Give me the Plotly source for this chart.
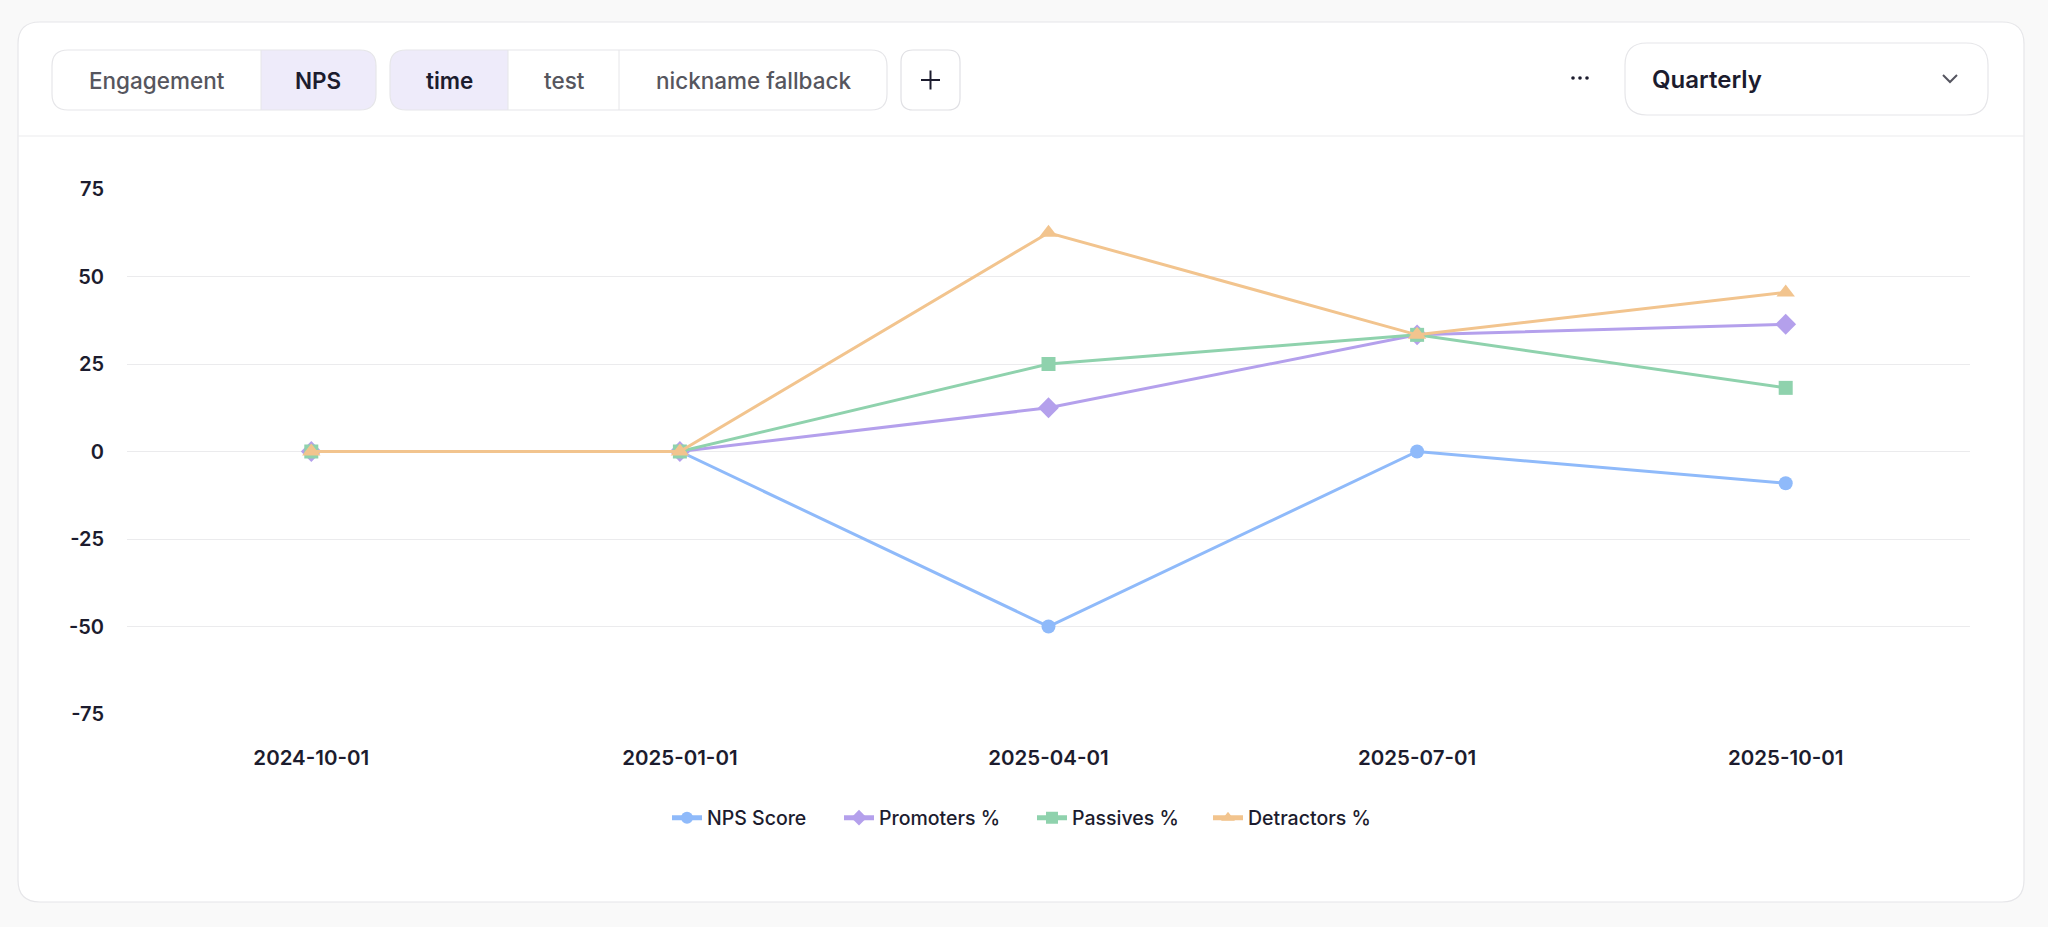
import plotly.graph_objects as go

# ---- data ----
quarters = ["2024-10-01", "2025-01-01", "2025-04-01", "2025-07-01", "2025-10-01"]
nps_score = [0, 0, -50, 0, -9.09]
promoters = [0, 0, 12.5, 33.33, 36.36]
passives = [0, 0, 25, 33.33, 18.18]
detractors = [0, 0, 62.5, 33.33, 45.45]
y_ticks = [-75, -50, -25, 0, 25, 50, 75]
y_tick_labels = ["-75", "-50", "-25", "0", "25", "50", "75"]

series_names = ["NPS Score", "Promoters %", "Passives %", "Detractors %"]
series_values = [nps_score, promoters, passives, detractors]
series_colors = ["#8fbafa", "#b4a0ec", "#8fd2ad", "#f2c48e"]
series_symbols = ["circle", "diamond", "square", "triangle-up"]
series_sizes = [14, 16, 14, 16]

tabs_left = ["Engagement", "NPS"]
tabs_right = ["time", "test", "nickname fallback"]
period_label = "Quarterly"

W, H = 2048, 927
L, R, T, B = 127, 1970, 189, 714
FONT = "Inter"


def px(x):
    return (x - L) / (R - L)


def py(y):
    return (B - y) / (B - T)


def rrect(x0, y0, x1, y1, r, corners=(True, True, True, True)):
    tl, tr, br, bl = [r if c else 0 for c in corners]
    def P(x, y):
        return f"{px(x):.6f},{py(y):.6f}"
    d = f"M {P(x0 + tl, y0)} L {P(x1 - tr, y0)} "
    if tr:
        d += f"Q {P(x1, y0)} {P(x1, y0 + tr)} "
    d += f"L {P(x1, y1 - br)} "
    if br:
        d += f"Q {P(x1, y1)} {P(x1 - br, y1)} "
    d += f"L {P(x0 + bl, y1)} "
    if bl:
        d += f"Q {P(x0, y1)} {P(x0, y1 - bl)} "
    d += f"L {P(x0, y0 + tl)} "
    if tl:
        d += f"Q {P(x0, y0)} {P(x0 + tl, y0)} "
    d += "Z"
    return d


legend_ids = ["legend", "legend2", "legend3", "legend4"]
legend_text_starts = [707, 879, 1072, 1248]

fig = go.Figure()
for name, vals, col, sym, sz, lg in zip(series_names, series_values, series_colors, series_symbols,
                                        series_sizes, legend_ids):
    fig.add_trace(go.Scatter(
        x=quarters, y=vals, name=name, mode="lines+markers",
        line=dict(color=col, width=3),
        marker=dict(color=col, symbol=sym, size=sz),
        legend=lg,
    ))

shapes = []
BORDER = "#e6e6e9"
LAV = "#eeebfa"
shapes.append(dict(type="path", path=rrect(18, 22, 2024, 902, 22), xref="paper", yref="paper",
                   fillcolor="white", line=dict(color=BORDER, width=1.2), layer="below"))
shapes.append(dict(type="line", x0=px(18), x1=px(2024), y0=py(136), y1=py(136), xref="paper", yref="paper",
                   line=dict(color="#ececee", width=1.2), layer="below"))
shapes.append(dict(type="path", path=rrect(261, 50, 376, 110, 16, (False, True, True, False)), xref="paper", yref="paper",
                   fillcolor=LAV, line=dict(width=0), layer="below"))
shapes.append(dict(type="path", path=rrect(52, 50, 376, 110, 16), xref="paper", yref="paper",
                   fillcolor="rgba(0,0,0,0)", line=dict(color=BORDER, width=1.2), layer="below"))
shapes.append(dict(type="line", x0=px(261), x1=px(261), y0=py(50), y1=py(110), xref="paper", yref="paper",
                   line=dict(color=BORDER, width=1), layer="below"))
shapes.append(dict(type="path", path=rrect(390, 50, 508, 110, 16, (True, False, False, True)), xref="paper", yref="paper",
                   fillcolor=LAV, line=dict(width=0), layer="below"))
shapes.append(dict(type="path", path=rrect(390, 50, 887, 110, 16), xref="paper", yref="paper",
                   fillcolor="rgba(0,0,0,0)", line=dict(color=BORDER, width=1.2), layer="below"))
for xd in (508, 619):
    shapes.append(dict(type="line", x0=px(xd), x1=px(xd), y0=py(50), y1=py(110), xref="paper", yref="paper",
                       line=dict(color=BORDER, width=1), layer="below"))
shapes.append(dict(type="path", path=rrect(901, 50, 960, 110, 12), xref="paper", yref="paper",
                   fillcolor="white", line=dict(color="#e0e0e4", width=1.2), layer="below"))
for (ax0, ay0, ax1, ay1) in [(921, 80, 940, 80), (930.5, 70.5, 930.5, 89.5)]:
    shapes.append(dict(type="line", x0=px(ax0), x1=px(ax1), y0=py(ay0), y1=py(ay1), xref="paper", yref="paper",
                       line=dict(color="#1c1c2e", width=2), layer="below"))
for xd in (1573, 1580, 1587):
    shapes.append(dict(type="circle", x0=px(xd - 1.8), x1=px(xd + 1.8), y0=py(78 - 1.8), y1=py(78 + 1.8),
                       xref="paper", yref="paper", fillcolor="#1c1c2e", line=dict(width=0), layer="below"))
shapes.append(dict(type="path", path=rrect(1625, 43, 1988, 115, 22), xref="paper", yref="paper",
                   fillcolor="white", line=dict(color=BORDER, width=1.2), layer="below"))
shapes.append(dict(type="path",
                   path=f"M {px(1943):.6f},{py(75):.6f} L {px(1950):.6f},{py(82):.6f} L {px(1957):.6f},{py(75):.6f}",
                   xref="paper", yref="paper", line=dict(color="#555560", width=2), layer="below"))

annotations = []
def label(text, xc, yc, color, size=22.5, weight=500, anchor="center"):
    annotations.append(dict(text=text, x=px(xc), y=py(yc), xref="paper", yref="paper", showarrow=False,
                            xanchor=anchor, yanchor="middle",
                            font=dict(family=FONT, size=size, color=color, weight=weight)))

label(tabs_left[0], 157, 80, "#56565e")
label(tabs_left[1], 318, 80, "#1c1c2e", weight=600)
label(tabs_right[0], 449, 80, "#1c1c2e", weight=600)
label(tabs_right[1], 564, 80, "#56565e")
label(tabs_right[2], 753, 80, "#56565e")
label(period_label, 1650, 79, "#1c1c2e", size=24, weight=600, anchor="left")

legend_common = dict(orientation="h", xanchor="left", y=py(818), yanchor="middle",
                     font=dict(family=FONT, size=19.5, color="#1c1c2e", weight=500),
                     bgcolor="rgba(0,0,0,0)", itemwidth=30, itemsizing="constant")
legends = {}
for lg, ts in zip(legend_ids, legend_text_starts):
    legends[lg] = dict(legend_common, x=px(ts - 40))

fig.update_layout(
    width=W, height=H,
    margin=dict(l=L, r=W - R, t=T, b=H - B, pad=0),
    paper_bgcolor="#f9f9f9",
    plot_bgcolor="rgba(0,0,0,0)",
    font=dict(family=FONT, color="#1c1c2e"),
    shapes=shapes,
    annotations=annotations,
    showlegend=True,
    hovermode="closest",
    **legends,
)
fig.update_xaxes(type="category", categoryorder="array", categoryarray=quarters,
                 range=[-0.5, len(quarters) - 0.5], showgrid=False, zeroline=False, showline=False,
                 ticks="", tickfont=dict(family=FONT, size=20.5, color="#1c1c2e", weight=600),
                 ticklabelstandoff=29)
fig.update_yaxes(range=[-75, 75], tickvals=y_ticks, ticktext=y_tick_labels,
                 showgrid=True, gridcolor="#ebebed", gridwidth=1,
                 zeroline=True, zerolinecolor="#ebebed", zerolinewidth=1, showline=False, ticks="",
                 tickfont=dict(family=FONT, size=20, color="#1c1c2e", weight=600),
                 ticklabelstandoff=22)

fig.write_html("out.html", post_script="document.body.style.margin='0';")
